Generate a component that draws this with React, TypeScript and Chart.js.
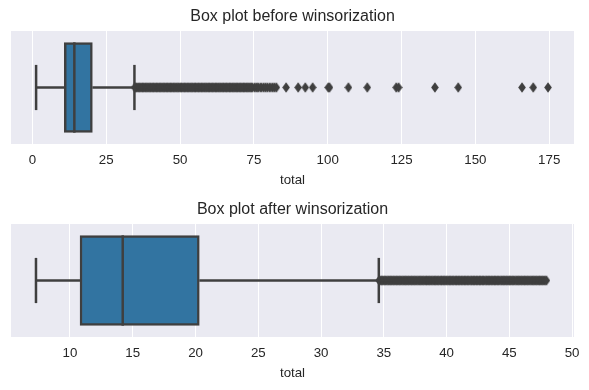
import React, { useEffect, useRef } from 'react';
import { Chart, registerables } from 'chart.js';

Chart.register(...registerables);

const BEFORE_TITLE = 'Box plot before winsorization';
const AFTER_TITLE = 'Box plot after winsorization';
const X_LABEL = 'total';

// [lower whisker, Q1, median, Q3, upper whisker]
const BEFORE_STATS = [1.25, 10.8, 14.2, 20.3, 34.55];
const AFTER_STATS = [7.29, 10.8, 14.2, 20.3, 34.6];

const BEFORE_OUTLIERS = [
  34.62, 35.1, 35.55, 36.05, 36.5, 37.0, 37.45, 37.95, 38.4, 38.9, 39.35, 39.85, 40.3,
  40.8, 41.25, 41.75, 42.2, 42.7, 43.15, 43.65, 44.1, 44.6, 45.05, 45.55, 46.0, 46.5,
  46.95, 47.45, 47.9, 48.4, 48.85, 49.35, 49.8, 50.3, 50.75, 51.25, 51.7, 52.2, 52.65,
  53.15, 53.6, 54.1, 54.55, 55.05, 55.5, 56.0, 56.45, 56.95, 57.4, 57.9, 58.35, 58.85,
  59.3, 59.8, 60.25, 60.75, 61.2, 61.7, 62.15, 62.65, 63.1, 63.6, 64.05, 64.55, 65.0,
  65.5, 65.95, 66.45, 66.9, 67.4, 67.85, 68.35, 68.8, 69.3, 69.75, 70.25, 70.7, 71.2,
  71.65, 72.15, 72.6, 73.1, 73.55, 74.05, 74.5, 75.3, 76.0, 76.6, 77.4, 78.2, 78.9,
  79.6, 80.4, 81.2, 81.9, 82.6, 85.9, 90.0, 92.4, 94.9, 100.2, 100.6, 107.0, 113.4,
  123.2, 124.0, 136.3, 144.2, 165.8, 169.6, 174.6,
];

const AFTER_OUTLIERS = [
  34.62, 34.75, 34.86, 34.98, 35.1, 35.22, 35.35, 35.46, 35.58, 35.7, 35.82, 35.95,
  36.06, 36.18, 36.3, 36.42, 36.55, 36.66, 36.78, 36.9, 37.02, 37.15, 37.26, 37.38,
  37.5, 37.62, 37.75, 37.86, 37.98, 38.1, 38.22, 38.35, 38.46, 38.58, 38.7, 38.82,
  38.95, 39.06, 39.18, 39.3, 39.42, 39.55, 39.66, 39.78, 39.9, 40.02, 40.15, 40.26,
  40.38, 40.5, 40.62, 40.75, 40.86, 40.98, 41.1, 41.22, 41.35, 41.46, 41.58, 41.7,
  41.82, 41.95, 42.06, 42.18, 42.3, 42.42, 42.55, 42.66, 42.78, 42.9, 43.02, 43.15,
  43.26, 43.38, 43.5, 43.62, 43.75, 43.86, 43.98, 44.1, 44.22, 44.35, 44.46, 44.58,
  44.7, 44.82, 44.95, 45.06, 45.18, 45.3, 45.42, 45.55, 45.66, 45.78, 45.9, 46.02,
  46.15, 46.26, 46.38, 46.5, 46.62, 46.75, 46.86, 46.98, 47.1, 47.22, 47.35, 47.46,
  47.58, 47.7, 47.82, 47.95,
];

const BEFORE_TICKS = [0, 25, 50, 75, 100, 125, 150, 175];
const AFTER_TICKS = [10, 15, 20, 25, 30, 35, 40, 45, 50];
const BEFORE_RANGE = [-7.25, 183.4];
const AFTER_RANGE = [5.3, 50.15];

const FONT = '"Liberation Sans", Arial, Helvetica, sans-serif';
const TEXT = '#262626';
const LINE = '#3f3f3f';
const BOX = '#3274a1';
const BG = '#eaeaf2';

function makeDiamond(): HTMLCanvasElement {
  const w = 8;
  const h = 11;
  const c = document.createElement('canvas');
  c.width = w;
  c.height = h;
  const g = c.getContext('2d')!;
  g.fillStyle = LINE;
  g.beginPath();
  g.moveTo(w / 2, 0.2);
  g.lineTo(w - 0.2, h / 2);
  g.lineTo(w / 2, h - 0.2);
  g.lineTo(0.2, h / 2);
  g.closePath();
  g.fill();
  return c;
}

const bgPlugin = {
  id: 'plotBg',
  beforeDraw(chart: any) {
    const { ctx, chartArea } = chart;
    ctx.save();
    ctx.fillStyle = BG;
    ctx.fillRect(chartArea.left, chartArea.top, chartArea.right - chartArea.left, chartArea.bottom - chartArea.top);
    ctx.restore();
  },
};

type Props = {
  title: string;
  stats: number[];
  outliers: number[];
  ticks: number[];
  range: number[];
  top: number;
};

function BoxChart({ title, stats, outliers, ticks, range, top }: Props) {
  const ref = useRef<HTMLCanvasElement | null>(null);
  useEffect(() => {
    if (!ref.current) return;
    const [lo, q1, med, q3, hi] = stats;
    const diamond = makeDiamond();
    const lineDs = (data: { x: number; y: number }[]) => ({
      type: 'scatter' as const,
      data,
      showLine: true,
      borderColor: LINE,
      borderWidth: 2.5,
      pointRadius: 0,
      fill: false,
    });
    const chart = new Chart(ref.current, {
      type: 'scatter',
      data: {
        datasets: [
          lineDs([{ x: med, y: -0.4 }, { x: med, y: 0.4 }]),
          lineDs([{ x: lo, y: 0 }, { x: q1, y: 0 }]),
          lineDs([{ x: q3, y: 0 }, { x: hi, y: 0 }]),
          lineDs([{ x: lo, y: -0.2 }, { x: lo, y: 0.2 }]),
          lineDs([{ x: hi, y: -0.2 }, { x: hi, y: 0.2 }]),
          {
            type: 'bar',
            indexAxis: 'y',
            data: [{ x: [q1, q3], y: 0 }],
            backgroundColor: BOX,
            borderColor: LINE,
            borderWidth: 2.5,
            borderSkipped: false,
            barThickness: 90,
          } as any,
          {
            type: 'scatter',
            data: outliers.map((v) => ({ x: v, y: 0 })),
            pointStyle: diamond,
            pointRadius: 4,
            showLine: false,
          } as any,
        ],
      },
      options: {
        responsive: false,
        animation: false,
        events: [],
        devicePixelRatio: 1,
        layout: { padding: { left: 11, right: 15, top: 0, bottom: 0 } },
        plugins: {
          legend: { display: false },
          tooltip: { enabled: false },
          title: {
            display: true,
            text: title,
            color: TEXT,
            font: { family: FONT, size: 16, weight: 'normal' as any, lineHeight: 1.2 },
            padding: { top: 7, bottom: 4.8 },
          },
        },
        scales: {
          x: {
            type: 'linear',
            min: range[0],
            max: range[1],
            afterBuildTicks: (scale: any) => {
              scale.ticks = ticks.map((v) => ({ value: v }));
            },
            afterFit: (scale: any) => {
              scale.height = 51;
            },
            grid: { color: '#ffffff', lineWidth: 1, drawTicks: false },
            border: { display: false },
            ticks: {
              color: TEXT,
              font: { family: FONT, size: 13.3, lineHeight: 1.2 },
              padding: 8,
              maxRotation: 0,
              autoSkip: false,
            },
            title: {
              display: true,
              text: X_LABEL,
              color: TEXT,
              font: { family: FONT, size: 13.3, lineHeight: 1.2 },
              padding: { top: 4, bottom: 7 },
            },
          },
          y: {
            type: 'linear',
            min: -0.5,
            max: 0.5,
            offset: false,
            display: false,
          },
        },
      },
      plugins: [bgPlugin],
    } as any);
    return () => chart.destroy();
  }, [title, stats, outliers, ticks, range]);

  return (
    <div style={{ position: 'absolute', left: 0, top, width: 589, height: 195 }}>
      <canvas ref={ref} width={589} height={195} style={{ display: 'block', width: 589, height: 195 }} />
    </div>
  );
}

export default function App() {
  return (
    <div style={{ position: 'fixed', left: 0, top: 0, width: 589, height: 390, background: '#ffffff', overflow: 'hidden' }}>
      <BoxChart title={BEFORE_TITLE} stats={BEFORE_STATS} outliers={BEFORE_OUTLIERS} ticks={BEFORE_TICKS} range={BEFORE_RANGE} top={0} />
      <BoxChart title={AFTER_TITLE} stats={AFTER_STATS} outliers={AFTER_OUTLIERS} ticks={AFTER_TICKS} range={AFTER_RANGE} top={193} />
    </div>
  );
}
